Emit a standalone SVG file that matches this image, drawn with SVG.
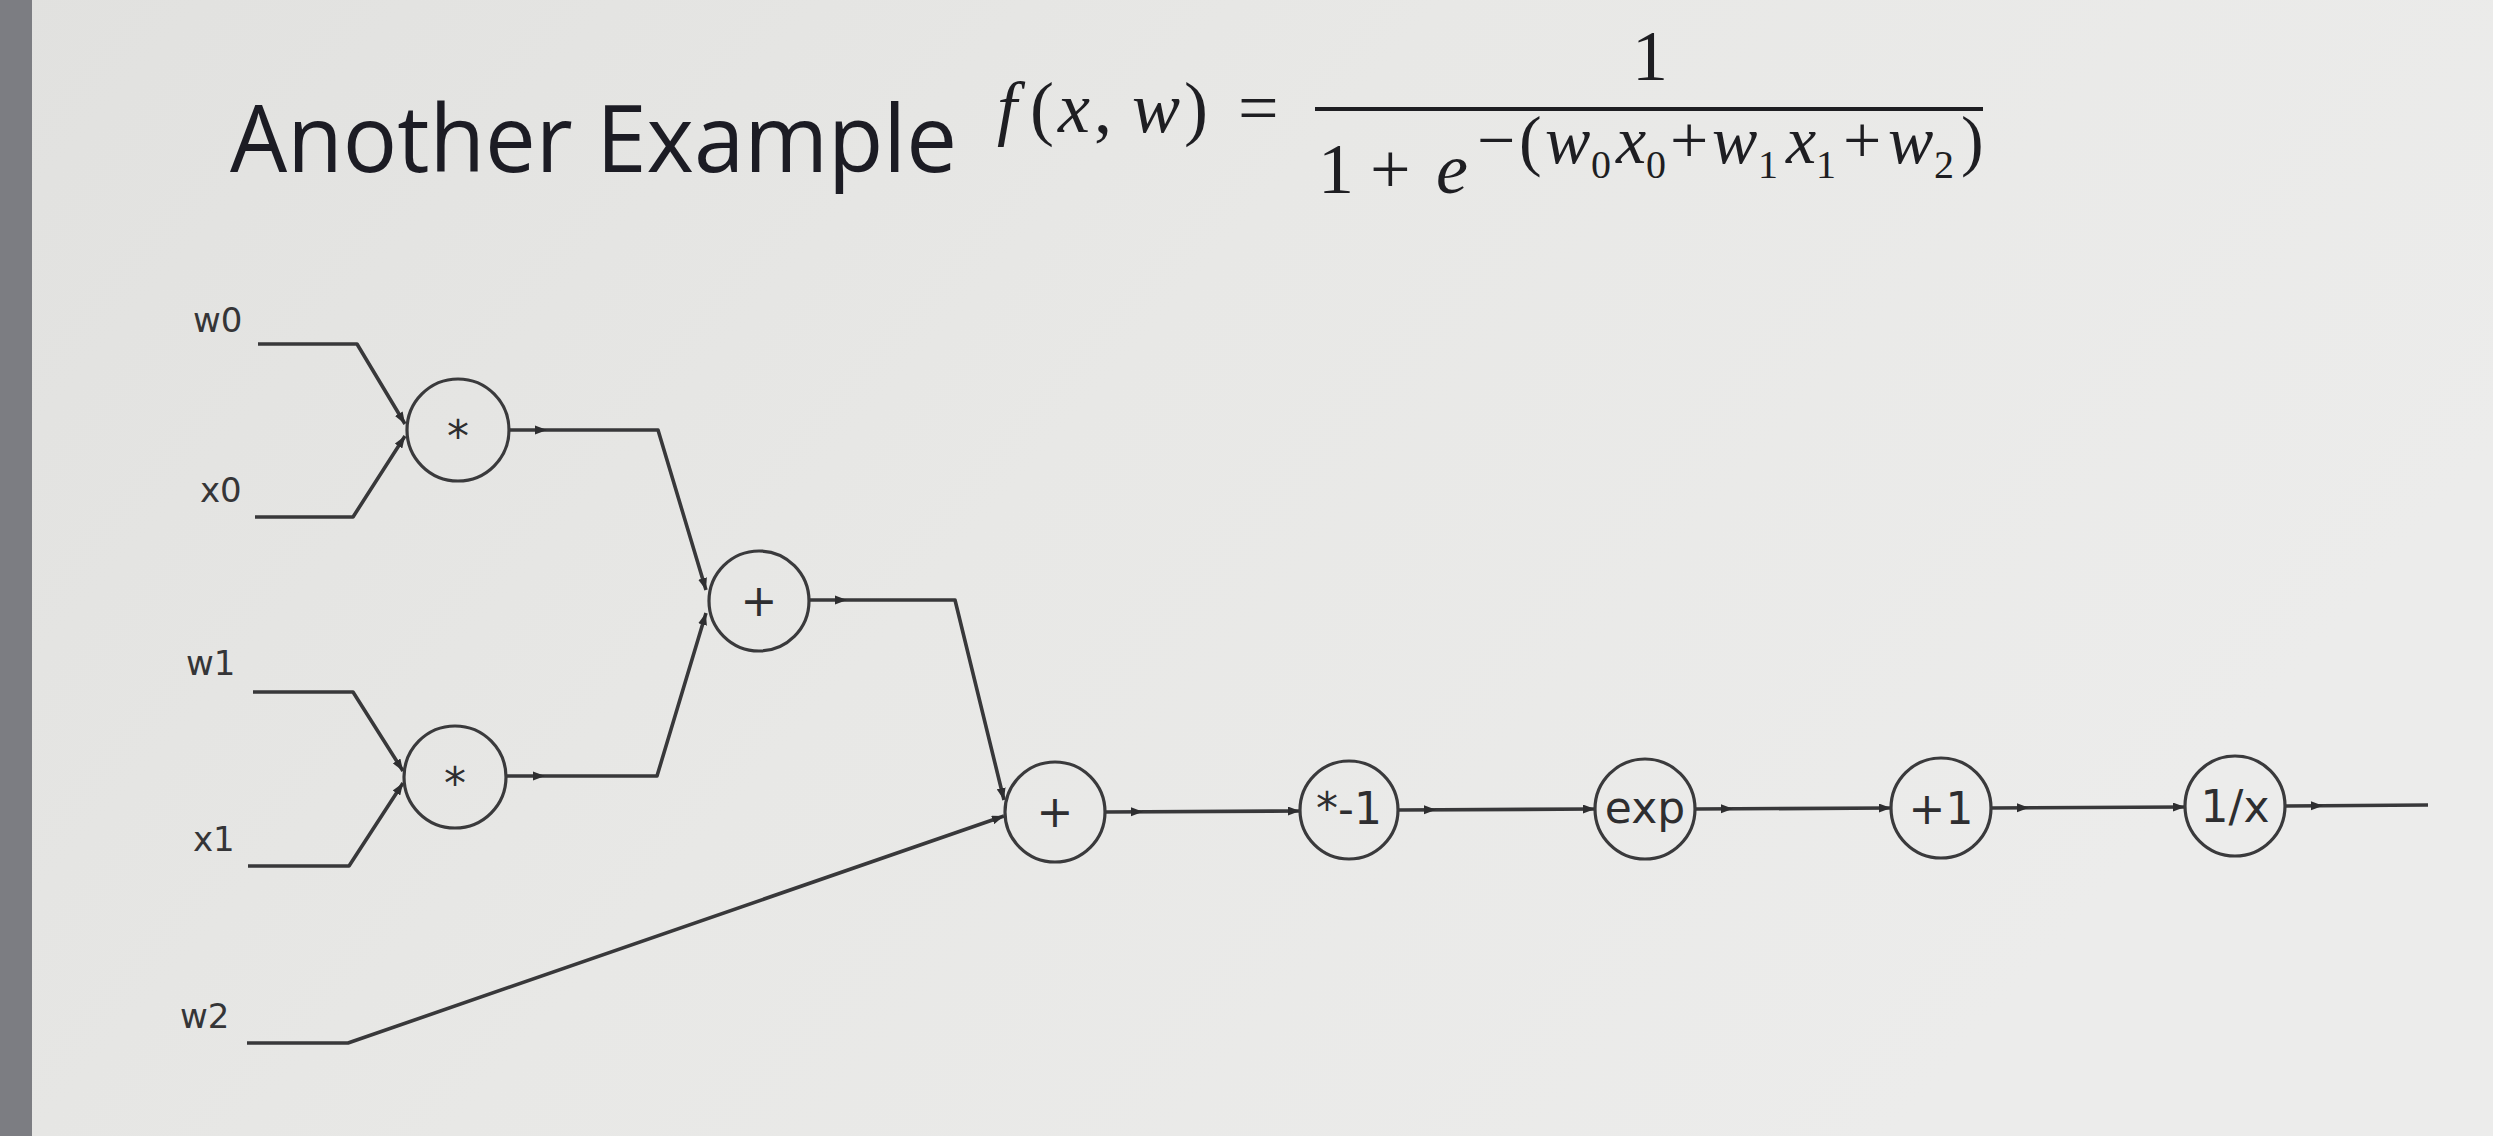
<svg xmlns="http://www.w3.org/2000/svg" width="2493" height="1136" viewBox="0 0 2493 1136">
<defs>
  <linearGradient id="bg" x1="0" y1="0" x2="1" y2="0.4">
    <stop offset="0" stop-color="#e1e1df"/>
    <stop offset="0.5" stop-color="#e8e8e6"/>
    <stop offset="1" stop-color="#ececeb"/>
  </linearGradient>
  <marker id="head" viewBox="0 0 12 9" refX="12" refY="4.5" markerWidth="12" markerHeight="9" markerUnits="userSpaceOnUse" orient="auto">
    <path d="M0,0 L12,4.5 L0,9 z" fill="#2e2e30"/>
  </marker>
  <marker id="tail" viewBox="0 0 12 9" refX="-26" refY="4.5" markerWidth="12" markerHeight="9" markerUnits="userSpaceOnUse" orient="auto" overflow="visible">
    <path d="M0,0 L12,4.5 L0,9 z" fill="#2e2e30"/>
  </marker>
  <style>
    .node circle { fill: none; stroke: #3a3a3c; stroke-width: 3.2; }
    .op { font-family: "DejaVu Sans", "Liberation Sans", sans-serif; font-size: 44px; fill: #2e2e30; text-anchor: middle; }
    .in { font-family: "DejaVu Sans", "Liberation Sans", sans-serif; font-size: 34px; fill: #353537; }
    .edge { fill: none; stroke: #38383a; stroke-width: 3.6; stroke-linejoin: round; }
    .math { font-family: "Liberation Serif", "DejaVu Serif", serif; fill: #1e1e22; }
    .it { font-style: italic; }
  </style>
</defs>

<rect x="0" y="0" width="2493" height="1136" fill="url(#bg)"/>
<rect x="0" y="0" width="32" height="1136" fill="#7c7d82"/>

<!-- title and formula -->
<text x="230" y="172" font-family="'Open Sans', 'Liberation Sans', sans-serif" font-size="94" fill="#1c1c24" textLength="727" lengthAdjust="spacingAndGlyphs">Another Example</text>

<g id="formula" class="math">
  <text y="132" font-size="72"><tspan class="it" x="997">f</tspan><tspan x="1030">(</tspan><tspan class="it" x="1058">x</tspan><tspan x="1094">,</tspan><tspan class="it" x="1132">w</tspan><tspan x="1184">)</tspan><tspan x="1238">=</tspan></text>
  <line x1="1315" y1="109" x2="1983" y2="109" stroke="#1e1e22" stroke-width="4"/>
  <text x="1650" y="80" font-size="72" text-anchor="middle">1</text>
  <text y="193" font-size="72"><tspan x="1318">1</tspan><tspan x="1370">+</tspan><tspan class="it" x="1436">e</tspan></text>
  <text y="163" font-size="68"><tspan x="1477">−</tspan><tspan x="1519">(</tspan><tspan class="it" x="1545">w</tspan><tspan x="1591" y="178" font-size="40">0</tspan><tspan class="it" x="1616" y="163">x</tspan><tspan x="1646" y="178" font-size="40">0</tspan><tspan x="1670" y="163">+</tspan><tspan class="it" x="1712">w</tspan><tspan x="1758" y="178" font-size="40">1</tspan><tspan class="it" x="1786" y="163">x</tspan><tspan x="1816" y="178" font-size="40">1</tspan><tspan x="1843" y="163">+</tspan><tspan class="it" x="1888">w</tspan><tspan x="1934" y="178" font-size="40">2</tspan><tspan x="1961" y="163">)</tspan></text>
</g>

<!-- input labels -->
<g id="inputs">
  <text class="in" x="193" y="332">w0</text>
  <text class="in" x="200" y="502">x0</text>
  <text class="in" x="186" y="675">w1</text>
  <text class="in" x="193" y="851">x1</text>
  <text class="in" x="180" y="1028">w2</text>
</g>

<!-- connectors -->
<g id="connectors">
  <path class="edge" d="M258,344 H357 L405,424" marker-end="url(#head)"/>
  <path class="edge" d="M255,517 H353 L405,436" marker-end="url(#head)"/>
  <path class="edge" d="M509,430 H658 L706,590" marker-start="url(#tail)" marker-end="url(#head)"/>
  <path class="edge" d="M253,692 H353 L403,771" marker-end="url(#head)"/>
  <path class="edge" d="M248,866 H349 L403,783" marker-end="url(#head)"/>
  <path class="edge" d="M507,776 H657 L706,613" marker-start="url(#tail)" marker-end="url(#head)"/>
  <path class="edge" d="M809,600 H955 L1004,800" marker-start="url(#tail)" marker-end="url(#head)"/>
  <path class="edge" d="M247,1043 H348 L1004,816" marker-end="url(#head)"/>
  <path class="edge" d="M1105,812 L1300,811" marker-start="url(#tail)" marker-end="url(#head)"/>
  <path class="edge" d="M1398,810 L1595,809" marker-start="url(#tail)" marker-end="url(#head)"/>
  <path class="edge" d="M1695,809 L1891,808" marker-start="url(#tail)" marker-end="url(#head)"/>
  <path class="edge" d="M1991,808 L2185,807" marker-start="url(#tail)" marker-end="url(#head)"/>
  <path class="edge" d="M2285,806 L2428,805" marker-start="url(#tail)"/>
</g>

<!-- nodes -->
<g id="mul0" class="node"><circle cx="458" cy="430" r="51"/><text class="op" x="458" y="452">*</text></g>
<g id="mul1" class="node"><circle cx="455" cy="777" r="51"/><text class="op" x="455" y="799">*</text></g>
<g id="add0" class="node"><circle cx="759" cy="601" r="50"/><text class="op" x="759" y="616">+</text></g>
<g id="add1" class="node"><circle cx="1055" cy="812" r="50"/><text class="op" x="1055" y="827">+</text></g>
<g id="neg" class="node"><circle cx="1349" cy="810" r="49"/><text class="op" x="1349" y="824">*-1</text></g>
<g id="exp" class="node"><circle cx="1645" cy="809" r="50"/><text class="op" x="1645" y="823">exp</text></g>
<g id="plus1" class="node"><circle cx="1941" cy="808" r="50"/><text class="op" x="1941" y="824">+1</text></g>
<g id="recip" class="node"><circle cx="2235" cy="806" r="50"/><text class="op" x="2235" y="822">1/x</text></g>
</svg>
